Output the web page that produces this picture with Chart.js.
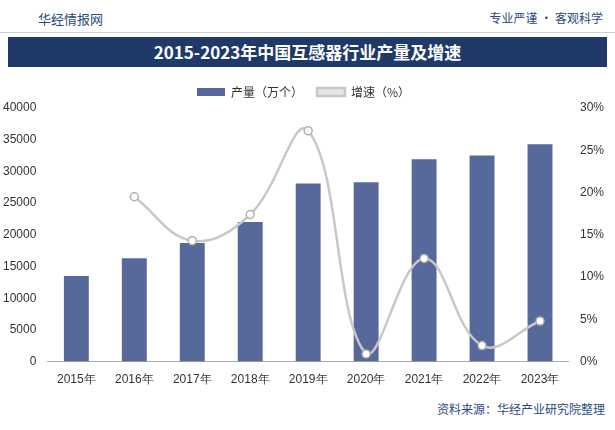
<!DOCTYPE html>
<html><head><meta charset="utf-8">
<script src="https://cdn.jsdelivr.net/npm/chart.js@4"></script>
<style>
body{margin:0;width:615px;height:430px;background:#fff;font-family:"Noto Sans CJK SC",sans-serif;position:relative;overflow:hidden}
#hdr{position:absolute;left:0;top:0;width:615px;height:32px;border-bottom:1px solid #c8d0dc}
#hl{position:absolute;left:38px;top:9px;font-size:13px;color:#2c4a7c}
#hr{position:absolute;right:12px;top:9px;font-size:12px;color:#2c4a7c}
#title{position:absolute;left:8px;top:37px;width:599px;height:30px;background:#1f3a68;color:#fff;font-size:17px;font-weight:bold;text-align:center;line-height:30px}
#wrap{position:absolute;left:0;top:72px;width:615px;height:318px}
#src{position:absolute;right:10px;top:400px;font-size:12px;color:#2c4a7c}
</style></head><body>
<div id="hdr"><div id="hl">华经情报网</div><div id="hr">专业严谨 • 客观科学</div></div>
<div id="title">2015-2023年中国互感器行业产量及增速</div>
<div id="wrap"><canvas id="c" width="615" height="318"></canvas></div>
<div id="src">资料来源：华经产业研究院整理</div>
<script>
const categories=["2015年","2016年","2017年","2018年","2019年","2020年","2021年","2022年","2023年"];
const output=[13500,16300,18700,22000,28100,28300,31900,32500,34300];
const growth=[null,19.5,14.3,17.4,27.3,0.9,12.2,1.9,4.8];
const ctx=document.getElementById('c');
new Chart(ctx,{data:{labels:categories,datasets:[
{type:'bar',label:'产量（万个）',data:output,yAxisID:'y',backgroundColor:'#56699a',barPercentage:0.43,categoryPercentage:1,order:1},
{type:'line',label:'增速（%）',data:growth,yAxisID:'y1',borderColor:'#c8c8c8',borderWidth:2.5,tension:0.4,pointRadius:4,pointBackgroundColor:'#fff',pointBorderColor:'#b0b0b0',pointBorderWidth:1.5,order:0}
]},options:{responsive:false,animation:false,maintainAspectRatio:false,
layout:{padding:{left:0,right:8,top:0,bottom:0}},
plugins:{legend:{position:'top',labels:{sort:(a,b)=>a.datasetIndex-b.datasetIndex,font:{size:12,family:'Noto Sans CJK SC'},color:'#333',boxWidth:28,boxHeight:8,padding:14}},tooltip:{enabled:false}},
scales:{x:{grid:{display:false},ticks:{color:'#333',font:{size:12}},border:{color:'#aaa'}},
y:{min:0,max:40000,ticks:{stepSize:5000,color:'#333',font:{size:12},callback:v=>String(v)},grid:{display:false},border:{display:false}},
y1:{position:'right',min:0,max:30,ticks:{stepSize:5,callback:v=>v+'%',color:'#333',font:{size:12}},grid:{display:false},border:{display:false}}}}});
</script>
</body></html>
